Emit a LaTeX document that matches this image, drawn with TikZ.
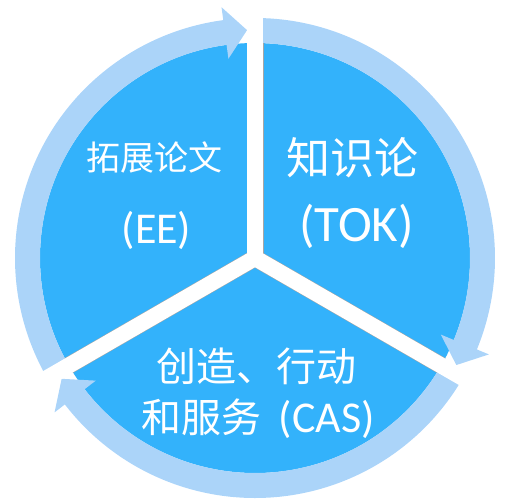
\documentclass[tikz,border=0pt]{standalone}
\usepackage{fontspec}
\setmainfont{Carlito}
\newfontfamily\cjk{Noto Sans CJK SC}
\definecolor{secblue}{RGB}{51,178,251}
\definecolor{ringblue}{RGB}{171,212,249}

\begin{document}
\begin{tikzpicture}[
		x=1pt, y=1pt,
		every node/.style={text=white, inner sep=0pt},
		sector/.style={fill=secblue},
		ring/.style={fill=ringblue},
		gapline/.style={draw=white, line width=16pt},
		gapshade/.style={draw=black!35, line width=17pt}
	]
  \useasboundingbox (-255,-242) rectangle (271,258);
  \foreach \a in {90,210,330}
    \fill[sector] (0,0) -- (\a:215) arc[start angle=\a, end angle=\a+120, radius=215] -- cycle;
  \foreach \g in {90,-30,-150} {
    \pgfmathsetmacro{\s}{\g+120}
    \pgfmathsetmacro{\b}{\g+7.6}
    \pgfmathsetmacro{\t}{\g+2}
    \fill[ring] (\s:240) arc[start angle=\s, end angle=\b, radius=240]
      -- (\b:253) -- (\t:228) -- (\b:201) -- (\b:215)
      arc[start angle=\b, end angle=\s, radius=215] -- cycle;
  }
  \foreach \g in {90,-30,-150}
    \draw[gapshade] (0,0) -- (\g:215);
  \foreach \g in {90,-30,-150}
    \draw[gapline] (0,0) -- (\g:250);
  \node (ee) [font=\cjk\fontsize{34}{40}\selectfont] at (-100,100.5) {拓展论文};
  \node (eeabbr) [font=\fontsize{44}{50}\selectfont] at (-98.5,28) {(EE)};
  \node (tok) [font=\cjk\fontsize{44}{50}\selectfont] at (97.5,100.5) {知识论};
  \node (tokabbr) [font=\fontsize{51}{58}\selectfont] at (101.5,32) {(TOK)};
  \node (cas) [font=\cjk\fontsize{40}{48}\selectfont] at (1,-108) {创造、行动};
  \node (casabbr) [font=\fontsize{44}{50}\selectfont] at (3,-161)
    {{\cjk\fontsize{40}{48}\selectfont 和服务}\hspace{0.4em}(CAS)};
\end{tikzpicture}
\end{document}
